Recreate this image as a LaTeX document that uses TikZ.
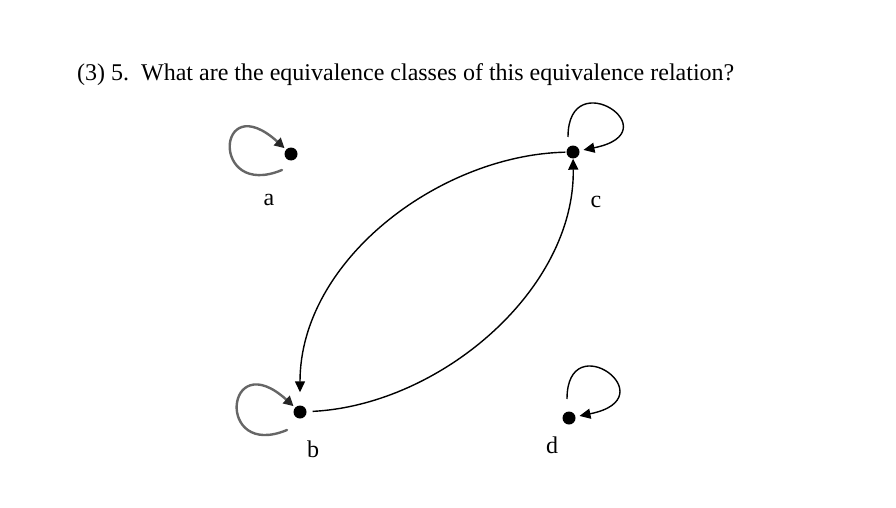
\documentclass[tikz,border=0pt]{standalone}
\usepackage{fontspec}
\setmainfont{Liberation Serif}
\usetikzlibrary{arrows.meta}
\begin{document}
\begin{tikzpicture}[x=1pt,y=-1pt,
  dot/.style={circle,fill=black,inner sep=0pt,minimum size=13pt},
  lbl/.style={anchor=base,inner sep=0pt,font=\fontsize{24}{28}\selectfont},
  edgeline/.style={line width=1.4pt,-{Triangle[length=11pt,width=10pt]}},
  grayloop/.style={line width=2.4pt,draw=black!60,line cap=round,-{Triangle[length=10pt,width=10pt,color=black!85,fill=black!85]}}
]
\useasboundingbox (0,0) rectangle (896,508);
\node[anchor=base west,inner sep=0pt,font=\fontsize{24}{28}\selectfont] (title) at (77,81) {(3) 5.\ \ What are the equivalence classes of this equivalence relation?};
% nodes
\node[dot] (a) at (291,154) {};
\node[dot] (b) at (300,412) {};
\node[dot] (c) at (573,152) {};
\node[dot] (d) at (569,418) {};
% labels
\node[lbl] (la) at (269,205) {a};
\node[lbl] (lc) at (596,207) {c};
\node[lbl] (lb) at (313,457) {b};
\node[lbl] (ld) at (552,453) {d};
% loop endpoints
\coordinate (a1) at (282,170);
\coordinate (b1) at (287,430);
\coordinate (c1) at (568,137);
\coordinate (d1) at (567,399);
% gray loops
\draw[grayloop,shorten >=2pt] (a1) .. controls +(-72,30) and +(-75,-68) .. (a);
\draw[grayloop,shorten >=2pt] (b1) .. controls +(-72,30) and +(-75,-68) .. (b);
% black loops
\draw[edgeline,shorten >=4pt] (c1) .. controls +(0,-75) and +(100,-20) .. (c);
\draw[edgeline,shorten >=4pt] (d1) .. controls +(0,-75) and +(100,-20) .. (d);
% main curves
\draw[edgeline,shorten <=1pt,shorten >=13pt] (c) .. controls (440,155) and (300,260) .. (b);
\draw[edgeline,shorten <=6pt] (b) .. controls (440,405) and (575,290) .. (c);
\end{tikzpicture}
\end{document}
